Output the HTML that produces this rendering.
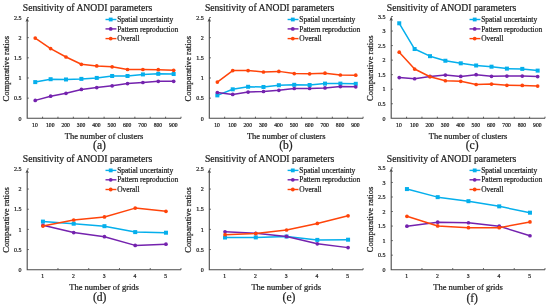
<!DOCTYPE html>
<html><head><meta charset="utf-8"><style>
html,body{margin:0;padding:0;background:#fff;}
body{width:550px;height:306px;overflow:hidden;}
svg{display:block;font-family:"Liberation Serif", serif;will-change:transform;filter:blur(0.3px);} text{stroke:#222;stroke-width:0.22px;}
</style></head><body>
<svg width="550" height="306" viewBox="0 0 550 306">
<rect width="550" height="306" fill="#fff"/>
<g><path d="M27.2 19.5V118.3H181" fill="none" stroke="#4a4a4a" stroke-width="1.1"/><path d="M27.2 17.5L25.5 21.7L27.2 20.9L28.9 21.7Z" fill="#4a4a4a"/><text x="21.6" y="120.5" font-size="6.0" text-anchor="end" fill="#222">0</text><path d="M27.2 98.14h1.6" stroke="#4a4a4a" stroke-width="0.9"/><text x="21.6" y="100.34" font-size="6.0" text-anchor="end" fill="#222">0.5</text><path d="M27.2 77.98h1.6" stroke="#4a4a4a" stroke-width="0.9"/><text x="21.6" y="80.18" font-size="6.0" text-anchor="end" fill="#222">1</text><path d="M27.2 57.82h1.6" stroke="#4a4a4a" stroke-width="0.9"/><text x="21.6" y="60.02" font-size="6.0" text-anchor="end" fill="#222">1.5</text><path d="M27.2 37.66h1.6" stroke="#4a4a4a" stroke-width="0.9"/><text x="21.6" y="39.86" font-size="6.0" text-anchor="end" fill="#222">2</text><path d="M27.2 17.5h1.6" stroke="#4a4a4a" stroke-width="0.9"/><text x="21.6" y="19.7" font-size="6.0" text-anchor="end" fill="#222">2.5</text><path d="M42.58 118.3v-1.6" stroke="#4a4a4a" stroke-width="0.9"/><path d="M57.96 118.3v-1.6" stroke="#4a4a4a" stroke-width="0.9"/><path d="M73.34 118.3v-1.6" stroke="#4a4a4a" stroke-width="0.9"/><path d="M88.72 118.3v-1.6" stroke="#4a4a4a" stroke-width="0.9"/><path d="M104.1 118.3v-1.6" stroke="#4a4a4a" stroke-width="0.9"/><path d="M119.48 118.3v-1.6" stroke="#4a4a4a" stroke-width="0.9"/><path d="M134.86 118.3v-1.6" stroke="#4a4a4a" stroke-width="0.9"/><path d="M150.24 118.3v-1.6" stroke="#4a4a4a" stroke-width="0.9"/><path d="M165.62 118.3v-1.6" stroke="#4a4a4a" stroke-width="0.9"/><path d="M181 118.3v-1.6" stroke="#4a4a4a" stroke-width="0.9"/><text x="34.89" y="126.9" font-size="5.6" text-anchor="middle" fill="#222">10</text><text x="50.27" y="126.9" font-size="5.6" text-anchor="middle" fill="#222">100</text><text x="65.65" y="126.9" font-size="5.6" text-anchor="middle" fill="#222">200</text><text x="81.03" y="126.9" font-size="5.6" text-anchor="middle" fill="#222">300</text><text x="96.41" y="126.9" font-size="5.6" text-anchor="middle" fill="#222">400</text><text x="111.79" y="126.9" font-size="5.6" text-anchor="middle" fill="#222">500</text><text x="127.17" y="126.9" font-size="5.6" text-anchor="middle" fill="#222">600</text><text x="142.55" y="126.9" font-size="5.6" text-anchor="middle" fill="#222">700</text><text x="157.93" y="126.9" font-size="5.6" text-anchor="middle" fill="#222">800</text><text x="173.31" y="126.9" font-size="5.6" text-anchor="middle" fill="#222">900</text><text x="104.1" y="138.6" font-size="8.5" text-anchor="middle" fill="#222">The number of clusters</text><text x="99.5" y="149.3" font-size="11.6" text-anchor="middle" fill="#222">(a)</text><text transform="translate(8.9 68.6) rotate(-90)" x="0" y="0" font-size="8.6" text-anchor="middle" fill="#222">Comparative ratios</text><text x="22.8" y="10.7" font-size="9.6" textLength="129.4" lengthAdjust="spacingAndGlyphs" fill="#222">Sensitivity of ANODI parameters</text><path d="M35.24 82.1 L50.62 79.2 L66 79.48 L81.38 78.88 L96.76 77.92 L112.14 75.99 L127.52 75.99 L142.9 74.42 L158.28 73.82 L173.66 74.02" fill="none" stroke="#05AFEC" stroke-width="1.5" stroke-linejoin="round"/><rect x="33.24" y="80.1" width="4" height="4" fill="#05AFEC"/><rect x="48.62" y="77.2" width="4" height="4" fill="#05AFEC"/><rect x="64" y="77.48" width="4" height="4" fill="#05AFEC"/><rect x="79.38" y="76.88" width="4" height="4" fill="#05AFEC"/><rect x="94.76" y="75.92" width="4" height="4" fill="#05AFEC"/><rect x="110.14" y="73.99" width="4" height="4" fill="#05AFEC"/><rect x="125.52" y="73.99" width="4" height="4" fill="#05AFEC"/><rect x="140.9" y="72.42" width="4" height="4" fill="#05AFEC"/><rect x="156.28" y="71.82" width="4" height="4" fill="#05AFEC"/><rect x="171.66" y="72.02" width="4" height="4" fill="#05AFEC"/><path d="M35.24 100.39 L50.62 96.21 L66 93.31 L81.38 89.41 L96.76 87.6 L112.14 85.8 L127.52 83.58 L142.9 82.5 L158.28 81.29 L173.66 81.29" fill="none" stroke="#7422AE" stroke-width="1.5" stroke-linejoin="round"/><circle cx="35.24" cy="100.39" r="1.85" fill="#7422AE"/><circle cx="50.62" cy="96.21" r="1.85" fill="#7422AE"/><circle cx="66" cy="93.31" r="1.85" fill="#7422AE"/><circle cx="81.38" cy="89.41" r="1.85" fill="#7422AE"/><circle cx="96.76" cy="87.6" r="1.85" fill="#7422AE"/><circle cx="112.14" cy="85.8" r="1.85" fill="#7422AE"/><circle cx="127.52" cy="83.58" r="1.85" fill="#7422AE"/><circle cx="142.9" cy="82.5" r="1.85" fill="#7422AE"/><circle cx="158.28" cy="81.29" r="1.85" fill="#7422AE"/><circle cx="173.66" cy="81.29" r="1.85" fill="#7422AE"/><path d="M35.24 38.12 L50.62 48.61 L66 57.01 L81.38 64.29 L96.76 65.9 L112.14 66.78 L127.52 69.51 L142.9 69.51 L158.28 69.72 L173.66 70.32" fill="none" stroke="#FF440A" stroke-width="1.5" stroke-linejoin="round"/><circle cx="35.24" cy="38.12" r="1.85" fill="#FF440A"/><circle cx="50.62" cy="48.61" r="1.85" fill="#FF440A"/><circle cx="66" cy="57.01" r="1.85" fill="#FF440A"/><circle cx="81.38" cy="64.29" r="1.85" fill="#FF440A"/><circle cx="96.76" cy="65.9" r="1.85" fill="#FF440A"/><circle cx="112.14" cy="66.78" r="1.85" fill="#FF440A"/><circle cx="127.52" cy="69.51" r="1.85" fill="#FF440A"/><circle cx="142.9" cy="69.51" r="1.85" fill="#FF440A"/><circle cx="158.28" cy="69.72" r="1.85" fill="#FF440A"/><circle cx="173.66" cy="70.32" r="1.85" fill="#FF440A"/><path d="M105.5 19.5H116.4" stroke="#05AFEC" stroke-width="1.4"/><rect x="108.8" y="17.6" width="3.8" height="3.8" fill="#05AFEC"/><text x="117.2" y="22.1" font-size="7.45" fill="#222">Spatial uncertainty</text><path d="M105.5 28.9H116.4" stroke="#7422AE" stroke-width="1.4"/><circle cx="110.7" cy="28.9" r="1.9" fill="#7422AE"/><text x="117.2" y="31.5" font-size="7.45" fill="#222">Pattern reproduction</text><path d="M105.5 38.6H116.4" stroke="#FF440A" stroke-width="1.4"/><circle cx="110.7" cy="38.6" r="1.9" fill="#FF440A"/><text x="117.2" y="41.2" font-size="7.45" fill="#222">Overall</text></g>
<g><path d="M209.3 19.5V118.3H363.1" fill="none" stroke="#4a4a4a" stroke-width="1.1"/><path d="M209.3 17.5L207.6 21.7L209.3 20.9L211 21.7Z" fill="#4a4a4a"/><text x="203.7" y="120.5" font-size="6.0" text-anchor="end" fill="#222">0</text><path d="M209.3 98.14h1.6" stroke="#4a4a4a" stroke-width="0.9"/><text x="203.7" y="100.34" font-size="6.0" text-anchor="end" fill="#222">0.5</text><path d="M209.3 77.98h1.6" stroke="#4a4a4a" stroke-width="0.9"/><text x="203.7" y="80.18" font-size="6.0" text-anchor="end" fill="#222">1</text><path d="M209.3 57.82h1.6" stroke="#4a4a4a" stroke-width="0.9"/><text x="203.7" y="60.02" font-size="6.0" text-anchor="end" fill="#222">1.5</text><path d="M209.3 37.66h1.6" stroke="#4a4a4a" stroke-width="0.9"/><text x="203.7" y="39.86" font-size="6.0" text-anchor="end" fill="#222">2</text><path d="M209.3 17.5h1.6" stroke="#4a4a4a" stroke-width="0.9"/><text x="203.7" y="19.7" font-size="6.0" text-anchor="end" fill="#222">2.5</text><path d="M224.68 118.3v-1.6" stroke="#4a4a4a" stroke-width="0.9"/><path d="M240.06 118.3v-1.6" stroke="#4a4a4a" stroke-width="0.9"/><path d="M255.44 118.3v-1.6" stroke="#4a4a4a" stroke-width="0.9"/><path d="M270.82 118.3v-1.6" stroke="#4a4a4a" stroke-width="0.9"/><path d="M286.2 118.3v-1.6" stroke="#4a4a4a" stroke-width="0.9"/><path d="M301.58 118.3v-1.6" stroke="#4a4a4a" stroke-width="0.9"/><path d="M316.96 118.3v-1.6" stroke="#4a4a4a" stroke-width="0.9"/><path d="M332.34 118.3v-1.6" stroke="#4a4a4a" stroke-width="0.9"/><path d="M347.72 118.3v-1.6" stroke="#4a4a4a" stroke-width="0.9"/><path d="M363.1 118.3v-1.6" stroke="#4a4a4a" stroke-width="0.9"/><text x="216.99" y="126.9" font-size="5.6" text-anchor="middle" fill="#222">10</text><text x="232.37" y="126.9" font-size="5.6" text-anchor="middle" fill="#222">100</text><text x="247.75" y="126.9" font-size="5.6" text-anchor="middle" fill="#222">200</text><text x="263.13" y="126.9" font-size="5.6" text-anchor="middle" fill="#222">300</text><text x="278.51" y="126.9" font-size="5.6" text-anchor="middle" fill="#222">400</text><text x="293.89" y="126.9" font-size="5.6" text-anchor="middle" fill="#222">500</text><text x="309.27" y="126.9" font-size="5.6" text-anchor="middle" fill="#222">600</text><text x="324.65" y="126.9" font-size="5.6" text-anchor="middle" fill="#222">700</text><text x="340.03" y="126.9" font-size="5.6" text-anchor="middle" fill="#222">800</text><text x="355.41" y="126.9" font-size="5.6" text-anchor="middle" fill="#222">900</text><text x="286.2" y="138.6" font-size="8.5" text-anchor="middle" fill="#222">The number of clusters</text><text x="285.9" y="149.3" font-size="11.6" text-anchor="middle" fill="#222">(b)</text><text transform="translate(191 68.6) rotate(-90)" x="0" y="0" font-size="8.6" text-anchor="middle" fill="#222">Comparative ratios</text><text x="204.9" y="10.7" font-size="9.6" textLength="129.4" lengthAdjust="spacingAndGlyphs" fill="#222">Sensitivity of ANODI parameters</text><path d="M217.34 95.38 L232.72 89.31 L248.1 86.78 L263.48 86.98 L278.86 85.21 L294.24 84.81 L309.62 85.01 L325 83.61 L340.38 83.61 L355.76 83.81" fill="none" stroke="#05AFEC" stroke-width="1.5" stroke-linejoin="round"/><rect x="215.34" y="93.38" width="4" height="4" fill="#05AFEC"/><rect x="230.72" y="87.31" width="4" height="4" fill="#05AFEC"/><rect x="246.1" y="84.78" width="4" height="4" fill="#05AFEC"/><rect x="261.48" y="84.98" width="4" height="4" fill="#05AFEC"/><rect x="276.86" y="83.21" width="4" height="4" fill="#05AFEC"/><rect x="292.24" y="82.81" width="4" height="4" fill="#05AFEC"/><rect x="307.62" y="83.01" width="4" height="4" fill="#05AFEC"/><rect x="323" y="81.61" width="4" height="4" fill="#05AFEC"/><rect x="338.38" y="81.61" width="4" height="4" fill="#05AFEC"/><rect x="353.76" y="81.81" width="4" height="4" fill="#05AFEC"/><path d="M217.34 92.49 L232.72 94.42 L248.1 92.09 L263.48 91.48 L278.86 90.32 L294.24 88.51 L309.62 88.51 L325 87.91 L340.38 86.62 L355.76 86.82" fill="none" stroke="#7422AE" stroke-width="1.5" stroke-linejoin="round"/><circle cx="217.34" cy="92.49" r="1.85" fill="#7422AE"/><circle cx="232.72" cy="94.42" r="1.85" fill="#7422AE"/><circle cx="248.1" cy="92.09" r="1.85" fill="#7422AE"/><circle cx="263.48" cy="91.48" r="1.85" fill="#7422AE"/><circle cx="278.86" cy="90.32" r="1.85" fill="#7422AE"/><circle cx="294.24" cy="88.51" r="1.85" fill="#7422AE"/><circle cx="309.62" cy="88.51" r="1.85" fill="#7422AE"/><circle cx="325" cy="87.91" r="1.85" fill="#7422AE"/><circle cx="340.38" cy="86.62" r="1.85" fill="#7422AE"/><circle cx="355.76" cy="86.82" r="1.85" fill="#7422AE"/><path d="M217.34 82.12 L232.72 70.58 L248.1 70.58 L263.48 71.99 L278.86 71.38 L294.24 73.6 L309.62 73.8 L325 73.19 L340.38 75 L355.76 75.2" fill="none" stroke="#FF440A" stroke-width="1.5" stroke-linejoin="round"/><circle cx="217.34" cy="82.12" r="1.85" fill="#FF440A"/><circle cx="232.72" cy="70.58" r="1.85" fill="#FF440A"/><circle cx="248.1" cy="70.58" r="1.85" fill="#FF440A"/><circle cx="263.48" cy="71.99" r="1.85" fill="#FF440A"/><circle cx="278.86" cy="71.38" r="1.85" fill="#FF440A"/><circle cx="294.24" cy="73.6" r="1.85" fill="#FF440A"/><circle cx="309.62" cy="73.8" r="1.85" fill="#FF440A"/><circle cx="325" cy="73.19" r="1.85" fill="#FF440A"/><circle cx="340.38" cy="75" r="1.85" fill="#FF440A"/><circle cx="355.76" cy="75.2" r="1.85" fill="#FF440A"/><path d="M287.6 19.5H298.5" stroke="#05AFEC" stroke-width="1.4"/><rect x="290.9" y="17.6" width="3.8" height="3.8" fill="#05AFEC"/><text x="299.3" y="22.1" font-size="7.45" fill="#222">Spatial uncertainty</text><path d="M287.6 28.9H298.5" stroke="#7422AE" stroke-width="1.4"/><circle cx="292.8" cy="28.9" r="1.9" fill="#7422AE"/><text x="299.3" y="31.5" font-size="7.45" fill="#222">Pattern reproduction</text><path d="M287.6 38.6H298.5" stroke="#FF440A" stroke-width="1.4"/><circle cx="292.8" cy="38.6" r="1.9" fill="#FF440A"/><text x="299.3" y="41.2" font-size="7.45" fill="#222">Overall</text></g>
<g><path d="M391.2 18.5V118.3H545" fill="none" stroke="#4a4a4a" stroke-width="1.1"/><path d="M391.2 16.5L389.5 20.7L391.2 19.9L392.9 20.7Z" fill="#4a4a4a"/><text x="385.6" y="120.5" font-size="6.0" text-anchor="end" fill="#222">0</text><path d="M391.2 103.76h1.6" stroke="#4a4a4a" stroke-width="0.9"/><text x="385.6" y="105.96" font-size="6.0" text-anchor="end" fill="#222">0.5</text><path d="M391.2 89.21h1.6" stroke="#4a4a4a" stroke-width="0.9"/><text x="385.6" y="91.41" font-size="6.0" text-anchor="end" fill="#222">1</text><path d="M391.2 74.67h1.6" stroke="#4a4a4a" stroke-width="0.9"/><text x="385.6" y="76.87" font-size="6.0" text-anchor="end" fill="#222">1.5</text><path d="M391.2 60.13h1.6" stroke="#4a4a4a" stroke-width="0.9"/><text x="385.6" y="62.33" font-size="6.0" text-anchor="end" fill="#222">2</text><path d="M391.2 45.59h1.6" stroke="#4a4a4a" stroke-width="0.9"/><text x="385.6" y="47.79" font-size="6.0" text-anchor="end" fill="#222">2.5</text><path d="M391.2 31.04h1.6" stroke="#4a4a4a" stroke-width="0.9"/><text x="385.6" y="33.24" font-size="6.0" text-anchor="end" fill="#222">3</text><path d="M391.2 16.5h1.6" stroke="#4a4a4a" stroke-width="0.9"/><text x="385.6" y="18.7" font-size="6.0" text-anchor="end" fill="#222">3.5</text><path d="M406.58 118.3v-1.6" stroke="#4a4a4a" stroke-width="0.9"/><path d="M421.96 118.3v-1.6" stroke="#4a4a4a" stroke-width="0.9"/><path d="M437.34 118.3v-1.6" stroke="#4a4a4a" stroke-width="0.9"/><path d="M452.72 118.3v-1.6" stroke="#4a4a4a" stroke-width="0.9"/><path d="M468.1 118.3v-1.6" stroke="#4a4a4a" stroke-width="0.9"/><path d="M483.48 118.3v-1.6" stroke="#4a4a4a" stroke-width="0.9"/><path d="M498.86 118.3v-1.6" stroke="#4a4a4a" stroke-width="0.9"/><path d="M514.24 118.3v-1.6" stroke="#4a4a4a" stroke-width="0.9"/><path d="M529.62 118.3v-1.6" stroke="#4a4a4a" stroke-width="0.9"/><path d="M545 118.3v-1.6" stroke="#4a4a4a" stroke-width="0.9"/><text x="398.89" y="126.9" font-size="5.6" text-anchor="middle" fill="#222">10</text><text x="414.27" y="126.9" font-size="5.6" text-anchor="middle" fill="#222">100</text><text x="429.65" y="126.9" font-size="5.6" text-anchor="middle" fill="#222">200</text><text x="445.03" y="126.9" font-size="5.6" text-anchor="middle" fill="#222">300</text><text x="460.41" y="126.9" font-size="5.6" text-anchor="middle" fill="#222">400</text><text x="475.79" y="126.9" font-size="5.6" text-anchor="middle" fill="#222">500</text><text x="491.17" y="126.9" font-size="5.6" text-anchor="middle" fill="#222">600</text><text x="506.55" y="126.9" font-size="5.6" text-anchor="middle" fill="#222">700</text><text x="521.93" y="126.9" font-size="5.6" text-anchor="middle" fill="#222">800</text><text x="537.31" y="126.9" font-size="5.6" text-anchor="middle" fill="#222">900</text><text x="468.1" y="138.6" font-size="8.5" text-anchor="middle" fill="#222">The number of clusters</text><text x="472.2" y="149.3" font-size="11.6" text-anchor="middle" fill="#222">(c)</text><text transform="translate(372.9 68.1) rotate(-90)" x="0" y="0" font-size="8.6" text-anchor="middle" fill="#222">Comparative ratios</text><text x="386.8" y="10.7" font-size="9.6" textLength="129.4" lengthAdjust="spacingAndGlyphs" fill="#222">Sensitivity of ANODI parameters</text><path d="M399.24 23.28 L414.62 49.02 L430 56.17 L445.38 60.74 L460.76 63.32 L476.14 65.49 L491.52 66.69 L506.9 68.61 L522.28 68.89 L537.66 70.61" fill="none" stroke="#05AFEC" stroke-width="1.5" stroke-linejoin="round"/><rect x="397.24" y="21.28" width="4" height="4" fill="#05AFEC"/><rect x="412.62" y="47.02" width="4" height="4" fill="#05AFEC"/><rect x="428" y="54.17" width="4" height="4" fill="#05AFEC"/><rect x="443.38" y="58.74" width="4" height="4" fill="#05AFEC"/><rect x="458.76" y="61.32" width="4" height="4" fill="#05AFEC"/><rect x="474.14" y="63.49" width="4" height="4" fill="#05AFEC"/><rect x="489.52" y="64.69" width="4" height="4" fill="#05AFEC"/><rect x="504.9" y="66.61" width="4" height="4" fill="#05AFEC"/><rect x="520.28" y="66.89" width="4" height="4" fill="#05AFEC"/><rect x="535.66" y="68.61" width="4" height="4" fill="#05AFEC"/><path d="M399.24 77.62 L414.62 78.76 L430 76.47 L445.38 75.04 L460.76 76.47 L476.14 74.7 L491.52 76.3 L506.9 76.1 L522.28 76.1 L537.66 76.59" fill="none" stroke="#7422AE" stroke-width="1.5" stroke-linejoin="round"/><circle cx="399.24" cy="77.62" r="1.85" fill="#7422AE"/><circle cx="414.62" cy="78.76" r="1.85" fill="#7422AE"/><circle cx="430" cy="76.47" r="1.85" fill="#7422AE"/><circle cx="445.38" cy="75.04" r="1.85" fill="#7422AE"/><circle cx="460.76" cy="76.47" r="1.85" fill="#7422AE"/><circle cx="476.14" cy="74.7" r="1.85" fill="#7422AE"/><circle cx="491.52" cy="76.3" r="1.85" fill="#7422AE"/><circle cx="506.9" cy="76.1" r="1.85" fill="#7422AE"/><circle cx="522.28" cy="76.1" r="1.85" fill="#7422AE"/><circle cx="537.66" cy="76.59" r="1.85" fill="#7422AE"/><path d="M399.24 52.16 L414.62 69.04 L430 76.76 L445.38 80.76 L460.76 81.33 L476.14 84.51 L491.52 84.11 L506.9 85.31 L522.28 85.4 L537.66 86.11" fill="none" stroke="#FF440A" stroke-width="1.5" stroke-linejoin="round"/><circle cx="399.24" cy="52.16" r="1.85" fill="#FF440A"/><circle cx="414.62" cy="69.04" r="1.85" fill="#FF440A"/><circle cx="430" cy="76.76" r="1.85" fill="#FF440A"/><circle cx="445.38" cy="80.76" r="1.85" fill="#FF440A"/><circle cx="460.76" cy="81.33" r="1.85" fill="#FF440A"/><circle cx="476.14" cy="84.51" r="1.85" fill="#FF440A"/><circle cx="491.52" cy="84.11" r="1.85" fill="#FF440A"/><circle cx="506.9" cy="85.31" r="1.85" fill="#FF440A"/><circle cx="522.28" cy="85.4" r="1.85" fill="#FF440A"/><circle cx="537.66" cy="86.11" r="1.85" fill="#FF440A"/><path d="M469.5 19.5H480.4" stroke="#05AFEC" stroke-width="1.4"/><rect x="472.8" y="17.6" width="3.8" height="3.8" fill="#05AFEC"/><text x="481.2" y="22.1" font-size="7.45" fill="#222">Spatial uncertainty</text><path d="M469.5 28.9H480.4" stroke="#7422AE" stroke-width="1.4"/><circle cx="474.7" cy="28.9" r="1.9" fill="#7422AE"/><text x="481.2" y="31.5" font-size="7.45" fill="#222">Pattern reproduction</text><path d="M469.5 38.6H480.4" stroke="#FF440A" stroke-width="1.4"/><circle cx="474.7" cy="38.6" r="1.9" fill="#FF440A"/><text x="481.2" y="41.2" font-size="7.45" fill="#222">Overall</text></g>
<g><path d="M27.2 170.9V269.7H181" fill="none" stroke="#4a4a4a" stroke-width="1.1"/><path d="M27.2 168.9L25.5 173.1L27.2 172.3L28.9 173.1Z" fill="#4a4a4a"/><text x="21.6" y="271.9" font-size="6.0" text-anchor="end" fill="#222">0</text><path d="M27.2 249.54h1.6" stroke="#4a4a4a" stroke-width="0.9"/><text x="21.6" y="251.74" font-size="6.0" text-anchor="end" fill="#222">0.5</text><path d="M27.2 229.38h1.6" stroke="#4a4a4a" stroke-width="0.9"/><text x="21.6" y="231.58" font-size="6.0" text-anchor="end" fill="#222">1</text><path d="M27.2 209.22h1.6" stroke="#4a4a4a" stroke-width="0.9"/><text x="21.6" y="211.42" font-size="6.0" text-anchor="end" fill="#222">1.5</text><path d="M27.2 189.06h1.6" stroke="#4a4a4a" stroke-width="0.9"/><text x="21.6" y="191.26" font-size="6.0" text-anchor="end" fill="#222">2</text><path d="M27.2 168.9h1.6" stroke="#4a4a4a" stroke-width="0.9"/><text x="21.6" y="171.1" font-size="6.0" text-anchor="end" fill="#222">2.5</text><path d="M57.96 269.7v-1.6" stroke="#4a4a4a" stroke-width="0.9"/><path d="M88.72 269.7v-1.6" stroke="#4a4a4a" stroke-width="0.9"/><path d="M119.48 269.7v-1.6" stroke="#4a4a4a" stroke-width="0.9"/><path d="M150.24 269.7v-1.6" stroke="#4a4a4a" stroke-width="0.9"/><path d="M181 269.7v-1.6" stroke="#4a4a4a" stroke-width="0.9"/><text x="42.58" y="278.3" font-size="5.6" text-anchor="middle" fill="#222">1</text><text x="73.34" y="278.3" font-size="5.6" text-anchor="middle" fill="#222">2</text><text x="104.1" y="278.3" font-size="5.6" text-anchor="middle" fill="#222">3</text><text x="134.86" y="278.3" font-size="5.6" text-anchor="middle" fill="#222">4</text><text x="165.62" y="278.3" font-size="5.6" text-anchor="middle" fill="#222">5</text><text x="104.1" y="290" font-size="8.5" text-anchor="middle" fill="#222">The number of grids</text><text x="99.65" y="300.5" font-size="11.6" text-anchor="middle" fill="#222">(d)</text><text transform="translate(8.9 220) rotate(-90)" x="0" y="0" font-size="8.6" text-anchor="middle" fill="#222">Comparative ratios</text><text x="22.8" y="162.1" font-size="9.6" textLength="129.4" lengthAdjust="spacingAndGlyphs" fill="#222">Sensitivity of ANODI parameters</text><path d="M42.93 221.6 L73.69 223.7 L104.45 226.17 L135.21 232.1 L165.97 232.71" fill="none" stroke="#05AFEC" stroke-width="1.5" stroke-linejoin="round"/><rect x="40.93" y="219.6" width="4" height="4" fill="#05AFEC"/><rect x="71.69" y="221.7" width="4" height="4" fill="#05AFEC"/><rect x="102.45" y="224.17" width="4" height="4" fill="#05AFEC"/><rect x="133.21" y="230.1" width="4" height="4" fill="#05AFEC"/><rect x="163.97" y="230.71" width="4" height="4" fill="#05AFEC"/><path d="M42.93 225.32 L73.69 232.59 L104.45 236.67 L135.21 245.4 L165.97 244.18" fill="none" stroke="#7422AE" stroke-width="1.5" stroke-linejoin="round"/><circle cx="42.93" cy="225.32" r="1.85" fill="#7422AE"/><circle cx="73.69" cy="232.59" r="1.85" fill="#7422AE"/><circle cx="104.45" cy="236.67" r="1.85" fill="#7422AE"/><circle cx="135.21" cy="245.4" r="1.85" fill="#7422AE"/><circle cx="165.97" cy="244.18" r="1.85" fill="#7422AE"/><path d="M42.93 226.09 L73.69 219.98 L104.45 216.95 L135.21 208.11 L165.97 211.3" fill="none" stroke="#FF440A" stroke-width="1.5" stroke-linejoin="round"/><circle cx="42.93" cy="226.09" r="1.85" fill="#FF440A"/><circle cx="73.69" cy="219.98" r="1.85" fill="#FF440A"/><circle cx="104.45" cy="216.95" r="1.85" fill="#FF440A"/><circle cx="135.21" cy="208.11" r="1.85" fill="#FF440A"/><circle cx="165.97" cy="211.3" r="1.85" fill="#FF440A"/><path d="M105.5 170.4H116.4" stroke="#05AFEC" stroke-width="1.4"/><rect x="108.8" y="168.5" width="3.8" height="3.8" fill="#05AFEC"/><text x="117.2" y="173" font-size="7.45" fill="#222">Spatial uncertainty</text><path d="M105.5 179.8H116.4" stroke="#7422AE" stroke-width="1.4"/><circle cx="110.7" cy="179.8" r="1.9" fill="#7422AE"/><text x="117.2" y="182.4" font-size="7.45" fill="#222">Pattern reproduction</text><path d="M105.5 189.5H116.4" stroke="#FF440A" stroke-width="1.4"/><circle cx="110.7" cy="189.5" r="1.9" fill="#FF440A"/><text x="117.2" y="192.1" font-size="7.45" fill="#222">Overall</text></g>
<g><path d="M209.3 170.9V269.7H363.1" fill="none" stroke="#4a4a4a" stroke-width="1.1"/><path d="M209.3 168.9L207.6 173.1L209.3 172.3L211 173.1Z" fill="#4a4a4a"/><text x="203.7" y="271.9" font-size="6.0" text-anchor="end" fill="#222">0</text><path d="M209.3 249.54h1.6" stroke="#4a4a4a" stroke-width="0.9"/><text x="203.7" y="251.74" font-size="6.0" text-anchor="end" fill="#222">0.5</text><path d="M209.3 229.38h1.6" stroke="#4a4a4a" stroke-width="0.9"/><text x="203.7" y="231.58" font-size="6.0" text-anchor="end" fill="#222">1</text><path d="M209.3 209.22h1.6" stroke="#4a4a4a" stroke-width="0.9"/><text x="203.7" y="211.42" font-size="6.0" text-anchor="end" fill="#222">1.5</text><path d="M209.3 189.06h1.6" stroke="#4a4a4a" stroke-width="0.9"/><text x="203.7" y="191.26" font-size="6.0" text-anchor="end" fill="#222">2</text><path d="M209.3 168.9h1.6" stroke="#4a4a4a" stroke-width="0.9"/><text x="203.7" y="171.1" font-size="6.0" text-anchor="end" fill="#222">2.5</text><path d="M240.06 269.7v-1.6" stroke="#4a4a4a" stroke-width="0.9"/><path d="M270.82 269.7v-1.6" stroke="#4a4a4a" stroke-width="0.9"/><path d="M301.58 269.7v-1.6" stroke="#4a4a4a" stroke-width="0.9"/><path d="M332.34 269.7v-1.6" stroke="#4a4a4a" stroke-width="0.9"/><path d="M363.1 269.7v-1.6" stroke="#4a4a4a" stroke-width="0.9"/><text x="224.68" y="278.3" font-size="5.6" text-anchor="middle" fill="#222">1</text><text x="255.44" y="278.3" font-size="5.6" text-anchor="middle" fill="#222">2</text><text x="286.2" y="278.3" font-size="5.6" text-anchor="middle" fill="#222">3</text><text x="316.96" y="278.3" font-size="5.6" text-anchor="middle" fill="#222">4</text><text x="347.72" y="278.3" font-size="5.6" text-anchor="middle" fill="#222">5</text><text x="286.2" y="290" font-size="8.5" text-anchor="middle" fill="#222">The number of grids</text><text x="289" y="301.3" font-size="11.6" text-anchor="middle" fill="#222">(e)</text><text transform="translate(191 220) rotate(-90)" x="0" y="0" font-size="8.6" text-anchor="middle" fill="#222">Comparative ratios</text><text x="204.9" y="162.1" font-size="9.6" textLength="129.4" lengthAdjust="spacingAndGlyphs" fill="#222">Sensitivity of ANODI parameters</text><path d="M225.03 237.52 L255.79 237.4 L286.55 236.55 L317.31 239.9 L348.07 239.7" fill="none" stroke="#05AFEC" stroke-width="1.5" stroke-linejoin="round"/><rect x="223.03" y="235.52" width="4" height="4" fill="#05AFEC"/><rect x="253.79" y="235.4" width="4" height="4" fill="#05AFEC"/><rect x="284.55" y="234.55" width="4" height="4" fill="#05AFEC"/><rect x="315.31" y="237.9" width="4" height="4" fill="#05AFEC"/><rect x="346.07" y="237.7" width="4" height="4" fill="#05AFEC"/><path d="M225.03 231.78 L255.79 233.32 L286.55 236.47 L317.31 243.78 L348.07 247.62" fill="none" stroke="#7422AE" stroke-width="1.5" stroke-linejoin="round"/><circle cx="225.03" cy="231.78" r="1.85" fill="#7422AE"/><circle cx="255.79" cy="233.32" r="1.85" fill="#7422AE"/><circle cx="286.55" cy="236.47" r="1.85" fill="#7422AE"/><circle cx="317.31" cy="243.78" r="1.85" fill="#7422AE"/><circle cx="348.07" cy="247.62" r="1.85" fill="#7422AE"/><path d="M225.03 234.69 L255.79 233.6 L286.55 230 L317.31 223.42 L348.07 215.78" fill="none" stroke="#FF440A" stroke-width="1.5" stroke-linejoin="round"/><circle cx="225.03" cy="234.69" r="1.85" fill="#FF440A"/><circle cx="255.79" cy="233.6" r="1.85" fill="#FF440A"/><circle cx="286.55" cy="230" r="1.85" fill="#FF440A"/><circle cx="317.31" cy="223.42" r="1.85" fill="#FF440A"/><circle cx="348.07" cy="215.78" r="1.85" fill="#FF440A"/><path d="M287.6 170.4H298.5" stroke="#05AFEC" stroke-width="1.4"/><rect x="290.9" y="168.5" width="3.8" height="3.8" fill="#05AFEC"/><text x="299.3" y="173" font-size="7.45" fill="#222">Spatial uncertainty</text><path d="M287.6 179.8H298.5" stroke="#7422AE" stroke-width="1.4"/><circle cx="292.8" cy="179.8" r="1.9" fill="#7422AE"/><text x="299.3" y="182.4" font-size="7.45" fill="#222">Pattern reproduction</text><path d="M287.6 189.5H298.5" stroke="#FF440A" stroke-width="1.4"/><circle cx="292.8" cy="189.5" r="1.9" fill="#FF440A"/><text x="299.3" y="192.1" font-size="7.45" fill="#222">Overall</text></g>
<g><path d="M391.2 169.9V269.7H545" fill="none" stroke="#4a4a4a" stroke-width="1.1"/><path d="M391.2 167.9L389.5 172.1L391.2 171.3L392.9 172.1Z" fill="#4a4a4a"/><text x="385.6" y="271.9" font-size="6.0" text-anchor="end" fill="#222">0</text><path d="M391.2 255.16h1.6" stroke="#4a4a4a" stroke-width="0.9"/><text x="385.6" y="257.36" font-size="6.0" text-anchor="end" fill="#222">0.5</text><path d="M391.2 240.61h1.6" stroke="#4a4a4a" stroke-width="0.9"/><text x="385.6" y="242.81" font-size="6.0" text-anchor="end" fill="#222">1</text><path d="M391.2 226.07h1.6" stroke="#4a4a4a" stroke-width="0.9"/><text x="385.6" y="228.27" font-size="6.0" text-anchor="end" fill="#222">1.5</text><path d="M391.2 211.53h1.6" stroke="#4a4a4a" stroke-width="0.9"/><text x="385.6" y="213.73" font-size="6.0" text-anchor="end" fill="#222">2</text><path d="M391.2 196.99h1.6" stroke="#4a4a4a" stroke-width="0.9"/><text x="385.6" y="199.19" font-size="6.0" text-anchor="end" fill="#222">2.5</text><path d="M391.2 182.44h1.6" stroke="#4a4a4a" stroke-width="0.9"/><text x="385.6" y="184.64" font-size="6.0" text-anchor="end" fill="#222">3</text><path d="M391.2 167.9h1.6" stroke="#4a4a4a" stroke-width="0.9"/><text x="385.6" y="170.1" font-size="6.0" text-anchor="end" fill="#222">3.5</text><path d="M421.96 269.7v-1.6" stroke="#4a4a4a" stroke-width="0.9"/><path d="M452.72 269.7v-1.6" stroke="#4a4a4a" stroke-width="0.9"/><path d="M483.48 269.7v-1.6" stroke="#4a4a4a" stroke-width="0.9"/><path d="M514.24 269.7v-1.6" stroke="#4a4a4a" stroke-width="0.9"/><path d="M545 269.7v-1.6" stroke="#4a4a4a" stroke-width="0.9"/><text x="406.58" y="278.3" font-size="5.6" text-anchor="middle" fill="#222">1</text><text x="437.34" y="278.3" font-size="5.6" text-anchor="middle" fill="#222">2</text><text x="468.1" y="278.3" font-size="5.6" text-anchor="middle" fill="#222">3</text><text x="498.86" y="278.3" font-size="5.6" text-anchor="middle" fill="#222">4</text><text x="529.62" y="278.3" font-size="5.6" text-anchor="middle" fill="#222">5</text><text x="468.1" y="290" font-size="8.5" text-anchor="middle" fill="#222">The number of grids</text><text x="472.2" y="301.7" font-size="11.6" text-anchor="middle" fill="#222">(f)</text><text transform="translate(372.9 219.5) rotate(-90)" x="0" y="0" font-size="8.6" text-anchor="middle" fill="#222">Comparative ratios</text><text x="386.8" y="162.1" font-size="9.6" textLength="129.4" lengthAdjust="spacingAndGlyphs" fill="#222">Sensitivity of ANODI parameters</text><path d="M406.93 189.07 L437.69 197.14 L468.45 201.17 L499.21 206.35 L529.97 212.69" fill="none" stroke="#05AFEC" stroke-width="1.5" stroke-linejoin="round"/><rect x="404.93" y="187.07" width="4" height="4" fill="#05AFEC"/><rect x="435.69" y="195.14" width="4" height="4" fill="#05AFEC"/><rect x="466.45" y="199.17" width="4" height="4" fill="#05AFEC"/><rect x="497.21" y="204.35" width="4" height="4" fill="#05AFEC"/><rect x="527.97" y="210.69" width="4" height="4" fill="#05AFEC"/><path d="M406.93 226.2 L437.69 222.19 L468.45 222.77 L499.21 226.22 L529.97 235.73" fill="none" stroke="#7422AE" stroke-width="1.5" stroke-linejoin="round"/><circle cx="406.93" cy="226.2" r="1.85" fill="#7422AE"/><circle cx="437.69" cy="222.19" r="1.85" fill="#7422AE"/><circle cx="468.45" cy="222.77" r="1.85" fill="#7422AE"/><circle cx="499.21" cy="226.22" r="1.85" fill="#7422AE"/><circle cx="529.97" cy="235.73" r="1.85" fill="#7422AE"/><path d="M406.93 216.29 L437.69 225.94 L468.45 227.66 L499.21 227.66 L529.97 221.9" fill="none" stroke="#FF440A" stroke-width="1.5" stroke-linejoin="round"/><circle cx="406.93" cy="216.29" r="1.85" fill="#FF440A"/><circle cx="437.69" cy="225.94" r="1.85" fill="#FF440A"/><circle cx="468.45" cy="227.66" r="1.85" fill="#FF440A"/><circle cx="499.21" cy="227.66" r="1.85" fill="#FF440A"/><circle cx="529.97" cy="221.9" r="1.85" fill="#FF440A"/><path d="M469.5 170.4H480.4" stroke="#05AFEC" stroke-width="1.4"/><rect x="472.8" y="168.5" width="3.8" height="3.8" fill="#05AFEC"/><text x="481.2" y="173" font-size="7.45" fill="#222">Spatial uncertainty</text><path d="M469.5 179.8H480.4" stroke="#7422AE" stroke-width="1.4"/><circle cx="474.7" cy="179.8" r="1.9" fill="#7422AE"/><text x="481.2" y="182.4" font-size="7.45" fill="#222">Pattern reproduction</text><path d="M469.5 189.5H480.4" stroke="#FF440A" stroke-width="1.4"/><circle cx="474.7" cy="189.5" r="1.9" fill="#FF440A"/><text x="481.2" y="192.1" font-size="7.45" fill="#222">Overall</text></g>
</svg>
</body></html>
